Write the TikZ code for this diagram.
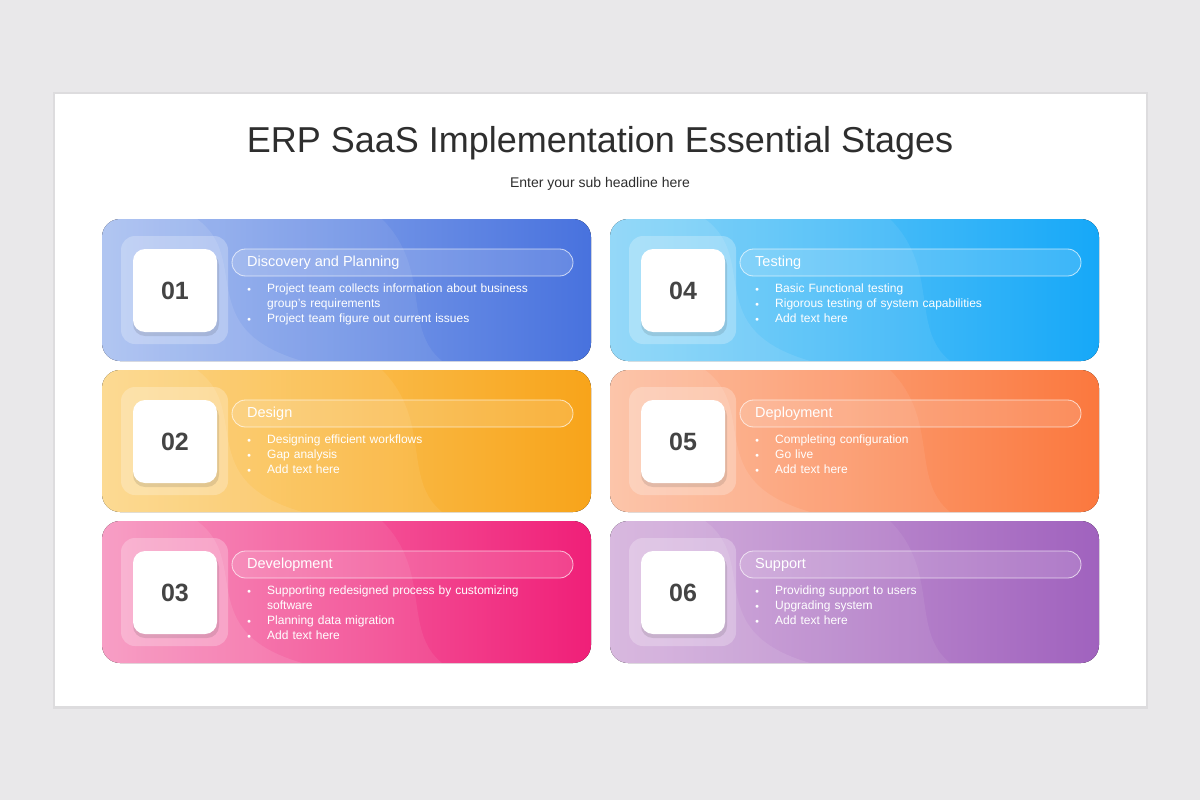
\documentclass[tikz,border=0pt]{standalone}
\usepackage{fontspec}
\setmainfont{Liberation Sans}
\usetikzlibrary{positioning}
\definecolor{bgc}{HTML}{E9E8EA}
\definecolor{txt}{HTML}{2E2E2E}
\definecolor{numc}{HTML}{444444}
\definecolor{aL}{HTML}{A2BBF0}\definecolor{aR}{HTML}{4872DE}
\definecolor{bL}{HTML}{FCD47E}\definecolor{bR}{HTML}{F8A41A}
\definecolor{cL}{HTML}{F78CBA}\definecolor{cR}{HTML}{F01F78}
\definecolor{dL}{HTML}{80D2F8}\definecolor{dR}{HTML}{16A8F8}
\definecolor{eL}{HTML}{FCBA9A}\definecolor{eR}{HTML}{FB783E}
\definecolor{fL}{HTML}{D2ACDA}\definecolor{fR}{HTML}{A062BE}
\tikzset{
 cardtitle/.style={anchor=west,text=white,font=\fontsize{14.5}{16}\selectfont,inner sep=0},
 bul/.style={anchor=north west,text=white,font=\fontsize{12}{15}\selectfont,inner sep=0,align=left,text width=290pt},
 numtxt/.style={text=numc,font=\bfseries\fontsize{25}{28}\selectfont}
}
\newcommand{\mycard}[8]{% x y leftcol rightcol num title bullets name
 \begin{scope}[shift={(#1,#2)}]
  \fill[left color=#3,right color=#4,rounded corners=18pt] (0,0) rectangle (489,142);
  \begin{scope}
   \clip[rounded corners=18pt] (0,0) rectangle (489,142);
   \fill[white,opacity=0.10] (95,0) .. controls (150,40) and (90,110) .. (200,142) -- (0,142) -- (0,0) -- cycle;
   \fill[white,opacity=0.07] (280,0) .. controls (330,50) and (300,110) .. (340,142) -- (0,142) -- (0,0) -- cycle;
  \end{scope}
  \fill[white,opacity=0.25,rounded corners=14pt] (19,17) rectangle (126,125);
  \fill[black,opacity=0.10,rounded corners=12pt] (31,34) rectangle (117,117);
  \fill[white,rounded corners=12pt] (31,30) rectangle (115,113);
  \node[numtxt] (#8n) at (73,72) {#5};
  \filldraw[fill=white,fill opacity=0.15,draw=white,draw opacity=0.7,line width=0.8pt,rounded corners=13.5pt] (130,30) rectangle (471,57);
  \node[cardtitle] (#8t) at (145,43.5) {#6};
  \node[bul] (#8b) at (145,65) {#7};
 \end{scope}}
\newcommand{\bl}{\makebox[20pt][l]{\raisebox{1pt}{\scriptsize$\bullet$}}}
\begin{document}
\begin{tikzpicture}[x=1pt,y=-1pt]
\fill[bgc] (0,0) rectangle (1200,800);
\useasboundingbox (0,0) rectangle (1200,800);
\fill[black,opacity=0.05] (53,92) rectangle (1148,709);
\fill[white] (55,94) rectangle (1146,706);
\node[text=txt,font=\fontsize{36}{40}\selectfont] (title) at (600,143) {ERP SaaS Implementation Essential Stages};
\node[text=txt,font=\fontsize{14}{16}\selectfont] (sub) at (600,184) {Enter your sub headline here};
\mycard{102}{219}{aL}{aR}{01}{Discovery and Planning}{\bl Project team collects information about business\\\hspace*{20pt}group's requirements\\\bl Project team figure out current issues}{c1}
\mycard{102}{370}{bL}{bR}{02}{Design}{\bl Designing efficient workflows\\\bl Gap analysis\\\bl Add text here}{c2}
\mycard{102}{521}{cL}{cR}{03}{Development}{\bl Supporting redesigned process by customizing\\\hspace*{20pt}software\\\bl Planning data migration\\\bl Add text here}{c3}
\mycard{610}{219}{dL}{dR}{04}{Testing}{\bl Basic Functional testing\\\bl Rigorous testing of system capabilities\\\bl Add text here}{c4}
\mycard{610}{370}{eL}{eR}{05}{Deployment}{\bl Completing configuration\\\bl Go live\\\bl Add text here}{c5}
\mycard{610}{521}{fL}{fR}{06}{Support}{\bl Providing support to users\\\bl Upgrading system\\\bl Add text here}{c6}
\end{tikzpicture}
\end{document}
